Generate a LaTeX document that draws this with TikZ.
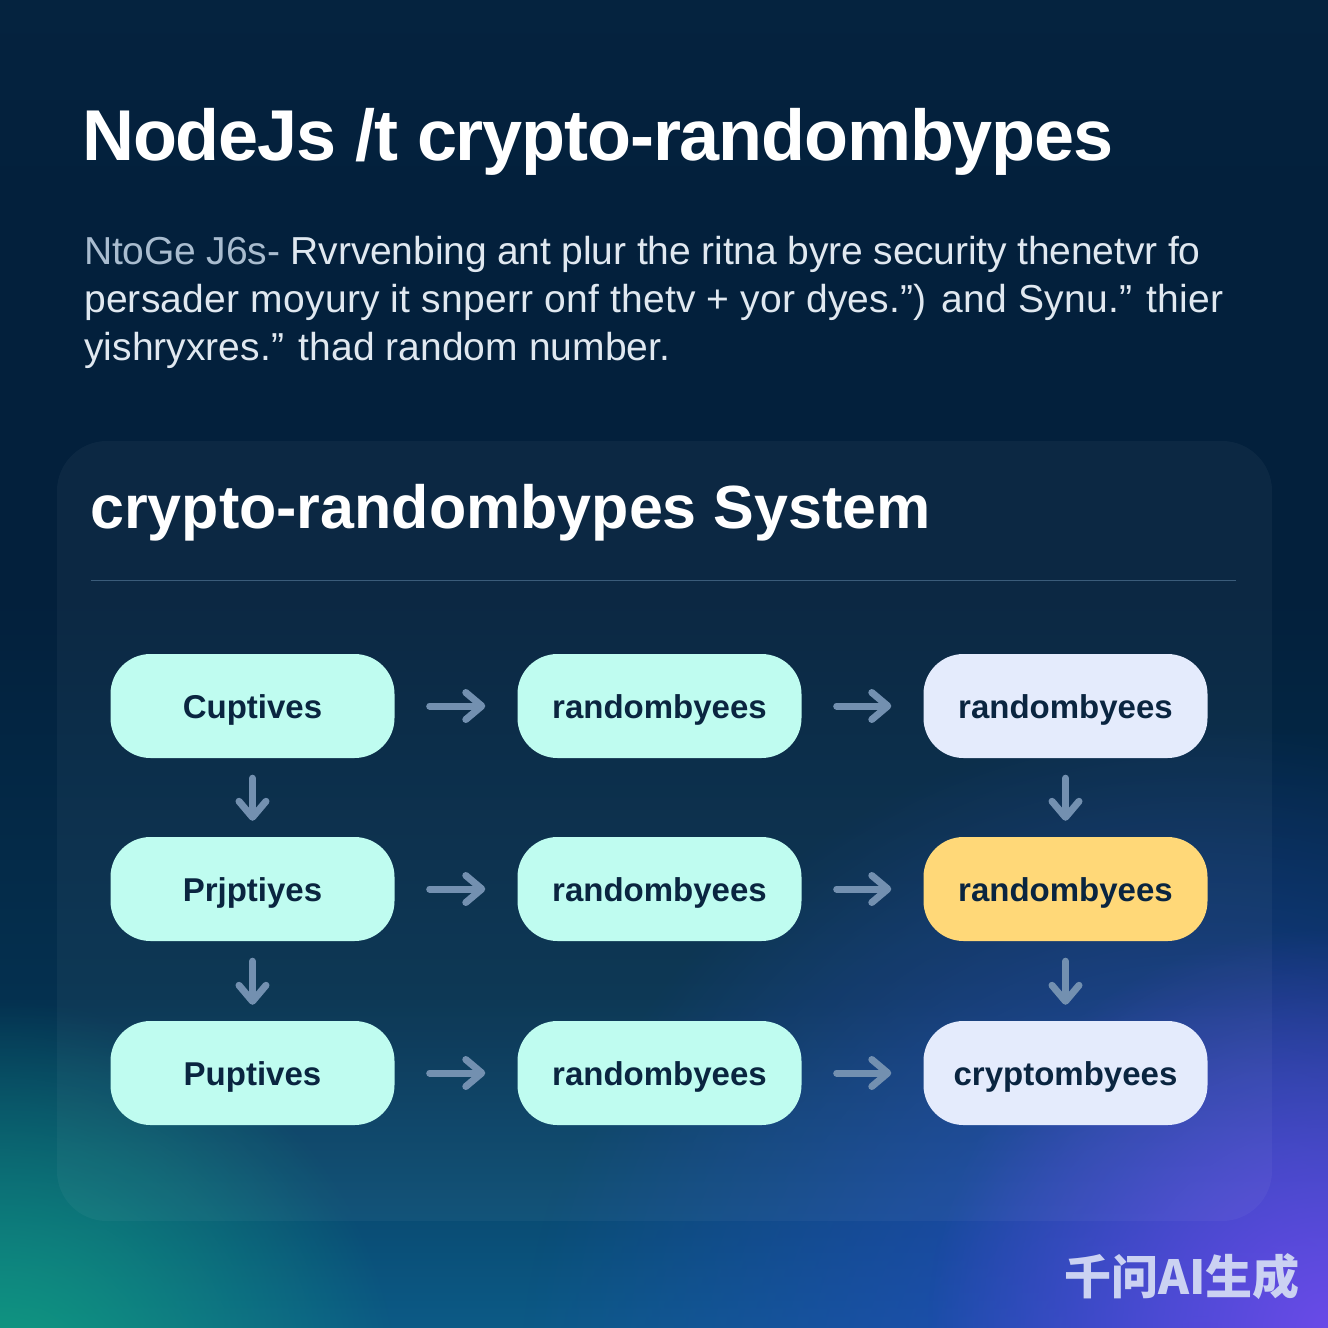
\documentclass[tikz,border=0pt]{standalone}
\usepackage{fontspec}
\setmainfont{Liberation Sans}
\newfontfamily\cjkfont{Noto Sans CJK SC}
\usetikzlibrary{arrows.meta,fadings,calc}
\definecolor{bgtop}{HTML}{05233F}
\definecolor{bgmid}{HTML}{03203C}
\definecolor{bgdeep}{HTML}{04304F}
\definecolor{bglow}{HTML}{0C5A86}
\definecolor{glowblue}{HTML}{2548C0}
\definecolor{glowpurple}{HTML}{6A4AE8}
\definecolor{glowteal}{HTML}{10A080}
\definecolor{mint}{HTML}{BFFCF0}
\definecolor{lav}{HTML}{E4EBFC}
\definecolor{gold}{HTML}{FFD878}
\definecolor{ink}{HTML}{0A2540}
\definecolor{arrowc}{HTML}{7390B0}
\definecolor{bodyc}{HTML}{E0E8F0}
\definecolor{dimc}{HTML}{A9BCCF}
\definecolor{rulec}{HTML}{3B5C7A}
\definecolor{markc}{HTML}{CBD2F2}
\pgfdeclareverticalshading{bgshade}{100bp}{color(0bp)=(bglow); color(25bp)=(bglow); color(37.5bp)=(bgdeep); color(52.5bp)=(bgmid); color(67.5bp)=(bgmid); color(75bp)=(bgtop); color(100bp)=(bgtop)}
\tikzfading[name=radfade, inner color=transparent!0, outer color=transparent!100]
\tikzset{
  box/.style={rounded corners=40pt, minimum width=284pt, minimum height=104pt, inner sep=0pt, text=ink, text height=30pt, text depth=6pt, font=\fontsize{33}{40}\selectfont\bfseries},
  mintbox/.style={box, fill=mint},
  lavbox/.style={box, fill=lav},
  goldbox/.style={box, fill=gold},
  flow/.style={draw=arrowc, line width=7pt, line cap=round, -{Straight Barb[length=16pt,width=27pt,line width=7pt,round]}},
  hflow/.style={flow, shorten <=35pt, shorten >=32pt},
  vflow/.style={flow, shorten <=20pt, shorten >=16pt},
}
\begin{document}
\begin{tikzpicture}[x=1pt,y=-1pt]
\useasboundingbox (0,0) rectangle (1328,1328);
\begin{scope}
\clip (0,0) rectangle (1328,1328);
\shade[shading=bgshade] (0,0) rectangle (1328,1328);
\fill[glowblue, path fading=radfade, fit fading=true] (1200,1400) circle (680);
\fill[glowteal, path fading=radfade, fit fading=true] (0,1400) circle (400);
\fill[glowpurple, path fading=radfade, fit fading=true] (1328,1328) circle (400);
\end{scope}
\fill[white, opacity=0.04, rounded corners=50pt] (57,441) rectangle (1272,1221);
\draw[rulec, line width=1.5pt] (91,580.5) -- (1236,580.5);
\node[anchor=base west, inner sep=0pt, text=white, font=\fontsize{72}{80}\selectfont\bfseries\addfontfeature{LetterSpace=-1.6}] (title) at (82,160) {NodeJs /t crypto-randombypes};
\node[anchor=north west, inner sep=0pt, text=bodyc, align=left, font=\fontsize{39}{48}\selectfont] (body) at (84,236) {{\addfontfeature{LetterSpace=-0.4}{\color{dimc}NtoGe J6s-} Rvrvenbing ant plur the ritna byre security thenetvr fo}\\{\addfontfeature{LetterSpace=0.6}persader moyury it snperr onf thetv + yor dyes.”) and Synu.” thier}\\{\addfontfeature{LetterSpace=0.15}yishryxres.” thad random number.}};
\node[anchor=base west, inner sep=0pt, text=white, font=\fontsize{61}{70}\selectfont\bfseries] (panelhead) at (90,528) {crypto-randombypes System};
\node[mintbox] (a1) at (252.5,706) {Cuptives};
\node[mintbox] (a2) at (659.5,706) {randombyees};
\node[lavbox]  (a3) at (1065.5,706) {randombyees};
\node[mintbox] (b1) at (252.5,889) {Prjptiyes};
\node[mintbox] (b2) at (659.5,889) {randombyees};
\node[goldbox] (b3) at (1065.5,889) {randombyees};
\node[mintbox] (c1) at (252.5,1073) {Puptives};
\node[mintbox] (c2) at (659.5,1073) {randombyees};
\node[lavbox]  (c3) at (1065.5,1073) {cryptombyees};
\foreach \p/\q in {a1/a2,a2/a3,b1/b2,b2/b3,c1/c2,c2/c3} \draw[hflow] (\p) -- (\q);
\foreach \p/\q in {a1/b1,b1/c1,a3/b3,b3/c3} \draw[vflow] (\p) -- (\q);
\node[anchor=base east, inner sep=0pt, text=markc, font=\fontsize{47}{55}\selectfont\bfseries\cjkfont] (mark) at (1300,1294) {千问AI生成};
\end{tikzpicture}
\end{document}
